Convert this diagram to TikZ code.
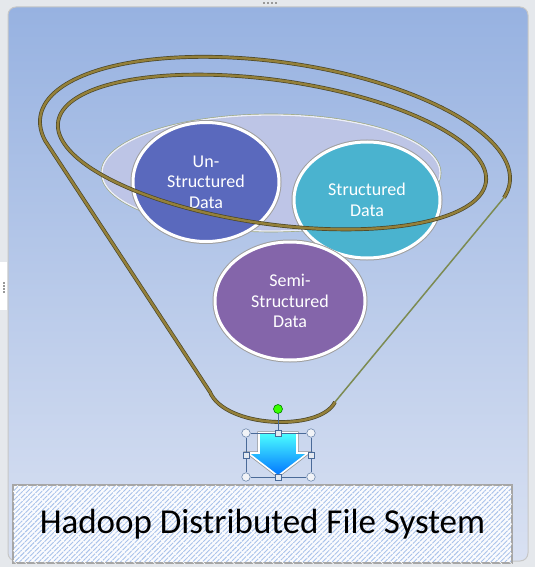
\documentclass[tikz,border=0pt]{standalone}
\usepackage{fontspec}
\setmainfont{Carlito}
\usetikzlibrary{shapes.geometric,patterns.meta}
\definecolor{winbg}{HTML}{E5E8EC}
\definecolor{paneltop}{HTML}{97B2E1}
\definecolor{panelbot}{HTML}{D9E1F2}
\definecolor{ringdark}{HTML}{4A4628}
\definecolor{ringgold}{HTML}{94803A}
\definecolor{wallolive}{HTML}{7C8B52}
\definecolor{unsc}{HTML}{5A69BD}
\definecolor{stc}{HTML}{4AB3CF}
\definecolor{semic}{HTML}{8465AA}
\definecolor{poolc}{HTML}{C0C6E7}
\definecolor{selc}{HTML}{4A6A98}
\definecolor{hatch}{HTML}{A9C2EA}
\tikzset{
  ring/.style={draw=ringgold, line width=2.4pt, line join=round, preaction={draw=ringdark, line width=3.8pt, line join=round}},
  wall/.style={draw=wallolive, line width=1.5pt},
  blob/.style={ellipse, draw=white, line width=3pt, preaction={draw=black!38, line width=5pt},
     text=white, font=\fontsize{18}{20.5}\selectfont, align=center, inner sep=0pt},
  poolell/.style={ellipse, fill=poolc, fill opacity=0.9, draw=white!70!poolc, line width=1.3pt,
     preaction={draw=wallolive!75, line width=2.6pt}, inner sep=0pt},
  hcirc/.style={circle, minimum size=8.5pt, inner sep=0pt, fill=white!92!selc, draw=selc!80, line width=0.6pt},
  hsq/.style={rectangle, minimum size=6pt, inner sep=0pt, fill=white!85!selc, draw=selc, line width=0.6pt},
  hdfsbox/.style={rectangle, minimum width=499pt, minimum height=78pt, inner sep=0pt,
     draw=black!35, line width=1.2pt, preaction={fill=white!95!paneltop},
     postaction={pattern={Lines[angle=-45, distance=7pt, line width=0.6pt]}, pattern color=white},
     pattern={Lines[angle=45, distance=3.4pt, line width=0.9pt]}, pattern color=hatch,
     font=\fontsize{35}{40}\selectfont, text=black}
}
\begin{document}
\begin{tikzpicture}[x=1pt,y=-1pt]
\useasboundingbox (0,0) rectangle (535,567);
% window background
\fill[winbg] (0,0) rectangle (535,567);
\fill[white] (0,262) rectangle (7,310);
\foreach \yy in {282,285,288,291} \fill[black!40] (2.5,\yy) rectangle (4.5,\yy+1.5);
\foreach \xx in {263,267,271,275} \fill[black!40] (\xx,2) rectangle (\xx+2,4);
% panel
\shade[top color=paneltop, bottom color=panelbot, rounded corners=8pt] (8,7) rectangle (528,561);
\draw[black!22, line width=1pt, rounded corners=8pt] (8,7) rectangle (528,561);
% pool ellipse
\node[poolell, minimum width=338pt, minimum height=116pt] (pool) at (271,173) {};
% funnel outer: right wall, bottom, left wall, top arc
\coordinate (rtop) at (504,197.6);
\coordinate (rbot) at (335,402);
\coordinate (lbot) at (210,392);
\draw[wall] (rtop) -- (rbot);
\draw[ring] (rbot) .. controls (320,432) and (225,428) .. (lbot)
  -- plot[domain=165:370, samples=120, smooth]
  ({275+237*cos(\x)*0.9903-88*sin(\x)*0.1392}, {150+237*cos(\x)*0.1392+88*sin(\x)*0.9903});
% data ellipses
\node[blob, fill=unsc, minimum width=146pt, minimum height=119pt] (un) at (206,182) {Un-\\Structured\\Data};
\node[blob, fill=stc, minimum width=146pt, minimum height=116pt] (st) at (367,200) {Structured\\Data};
\node[blob, fill=semic, minimum width=150pt, minimum height=118pt] (semi) at (290,301) {Semi-\\Structured\\Data};
% inner ring
\draw[ring] plot[domain=0:360, samples=160, smooth cycle]
  ({272+216*cos(\x)*0.9903-72*sin(\x)*0.1392}, {152+216*cos(\x)*0.1392+72*sin(\x)*0.9903});
% arrow
\shadedraw[top color=cyan!70!white, bottom color=blue!55!cyan, draw=white, line width=1.6pt, line join=miter,
  preaction={draw=black!40, line width=3.2pt}]
  (259,433) -- (297,433) -- (297,453) -- (308,453) -- (278,476) -- (248,453) -- (259,453) -- cycle;
% selection handles
\node[hcirc] (c1) at (246,433) {};
\node[hcirc] (c2) at (311,433) {};
\node[hcirc] (c3) at (311,477) {};
\node[hcirc] (c4) at (246,477) {};
\node[hsq] (s1) at (278,433) {};
\node[hsq] (s2) at (311,455) {};
\node[hsq] (s3) at (278,477) {};
\node[hsq] (s4) at (246,455) {};
\node[circle, minimum size=9pt, inner sep=0pt, fill=green!70!lime, draw=green!50!black, line width=0.6pt] (rot) at (278,409) {};
\draw[selc, line width=0.8pt] (c1) -- (s1) -- (c2) -- (s2) -- (c3) -- (s3) -- (c4) -- (s4) -- (c1);
\draw[selc, line width=0.8pt] (rot) -- (s1);
% HDFS box
\node[hdfsbox] (hdfs) at (262.5,524) {Hadoop Distributed File System};
\end{tikzpicture}
\end{document}
